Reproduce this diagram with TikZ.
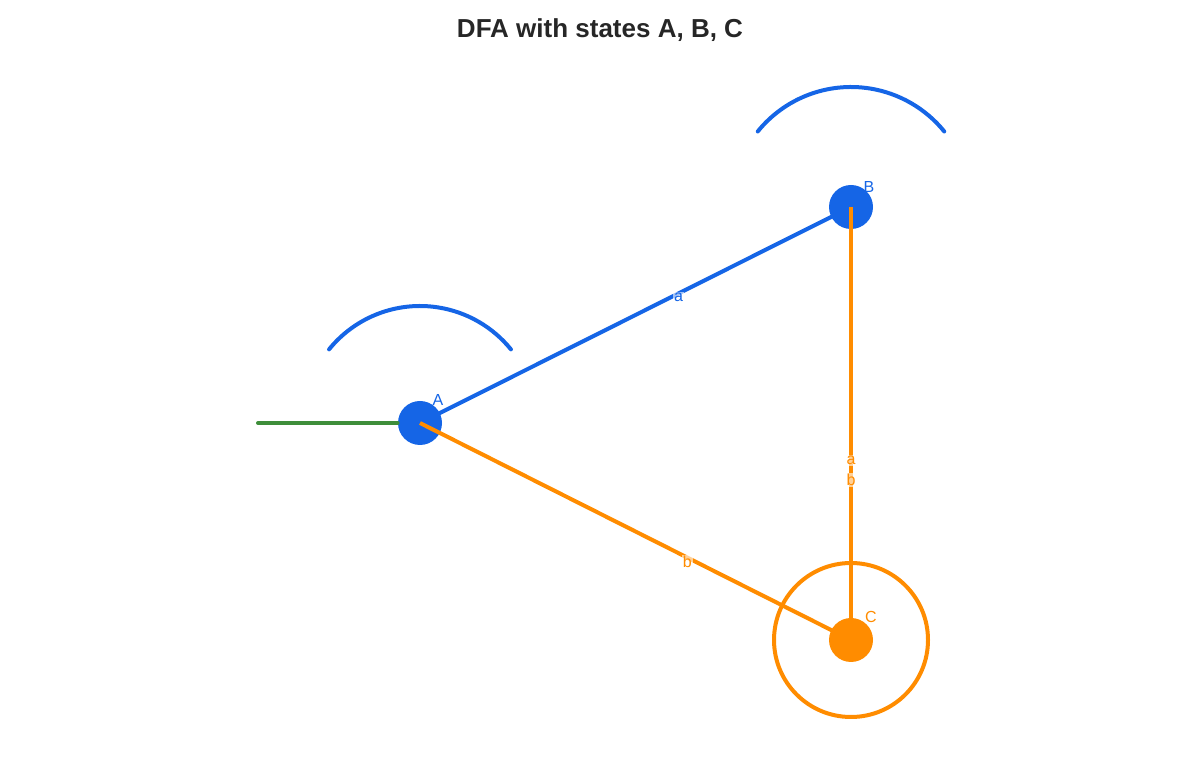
\documentclass[tikz,border=0pt]{standalone}
\usepackage{fontspec}
\setmainfont{Liberation Sans}
\begin{document}
\begin{tikzpicture}[x=0.5pt,y=-0.5pt,
  st/.style={circle,minimum size=22pt,inner sep=0pt},
  ln/.style={line width=2pt},
  lab/.style={font=\fontsize{8}{9}\selectfont,inner sep=0.5pt,fill=white,fill opacity=0.6,text opacity=1},
  nm/.style={font=\fontsize{8}{9}\selectfont,inner sep=0pt}]
\definecolor{bl}{HTML}{1565E6}
\definecolor{og}{HTML}{FF8C00}
\definecolor{gr}{HTML}{3E8E3A}
\useasboundingbox (0,0) rectangle (1200,763);
\node[font=\bfseries\fontsize{13}{15}\selectfont,text=black!85] (t) at (600,30) {DFA with states A, B, C};
\node[st,fill=bl] (A) at (420,423) {};
\node[st,fill=bl] (B) at (851,207) {};
\node[st,fill=og] (C) at (851,640) {};
\coordinate (s) at (258,423);
\draw[ln,gr,line cap=round] (s) -- (A);
\draw[ln,bl] (A.center) -- (B.center) node[lab,text=bl,pos=0.6,yshift=-2pt] {a};
\draw[ln,og] (A.center) -- (C.center) node[lab,text=og,pos=0.62,yshift=-2pt] {b};
\draw[ln,og] (B.center) -- (C.center) node[lab,text=og,pos=0.585] {a} node[lab,text=og,pos=0.63] {b};
\draw[ln,og] (C) circle[radius=77];
\draw[ln,bl,line cap=round] (A.center) ++(219:117) arc[start angle=219,end angle=321,radius=117];
\draw[ln,bl,line cap=round] (B.center) ++(219:120) arc[start angle=219,end angle=321,radius=120];
\node[nm,text=bl] (la) at (438,400) {A};
\node[nm,text=bl] (lb) at (869,187) {B};
\node[nm,text=og] (lc) at (871,617) {C};
\end{tikzpicture}
\end{document}
